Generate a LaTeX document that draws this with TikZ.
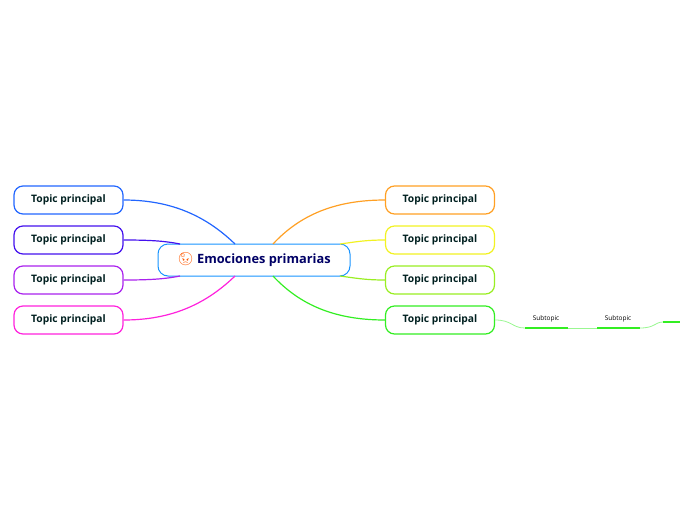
\documentclass[tikz,border=0pt]{standalone}
\usepackage{fontspec}
\setmainfont{Open Sans}
\newfontfamily\emo{Noto Emoji}
\begin{document}
\begin{tikzpicture}[x=1pt,y=-1pt,
  topic/.style={draw=#1,line width=1.2pt,rounded corners=9pt,minimum width=109pt,minimum height=28pt,font=\bfseries\fontsize{10.3}{11}\selectfont,text=black!75!teal,fill=white},
  conn/.style={draw=#1,line width=1.2pt},
  sub/.style={font=\fontsize{6.5}{7}\selectfont,inner sep=1pt}]
\useasboundingbox (0,0) rectangle (696,520);
\definecolor{cb}{HTML}{2266FF}\definecolor{cp}{HTML}{4411EE}\definecolor{cv}{HTML}{AA22EE}\definecolor{cm}{HTML}{FF22DD}
\definecolor{co}{HTML}{FFA024}\definecolor{cy}{HTML}{F2F222}\definecolor{cl}{HTML}{99EE22}\definecolor{cg}{HTML}{33EE22}
\node[draw=cb!70!cyan,line width=1pt,rounded corners=10pt,minimum width=192pt,minimum height=32pt,fill=white,font=\bfseries\fontsize{12.8}{14}\selectfont,text=blue!40!black] (c) at (254,260) {{\emo\fontsize{13}{13}\selectfont\textcolor{orange!70!red}{😡}} Emociones primarias};
\node[topic=cb] (l1) at (68.5,200) {Topic principal};
\node[topic=cp] (l2) at (68.5,240) {Topic principal};
\node[topic=cv] (l3) at (68.5,280) {Topic principal};
\node[topic=cm] (l4) at (68.5,320) {Topic principal};
\node[topic=co] (r1) at (440,200) {Topic principal};
\node[topic=cy] (r2) at (440,240) {Topic principal};
\node[topic=cl] (r3) at (440,280) {Topic principal};
\node[topic=cg] (r4) at (440,320) {Topic principal};
\draw[conn=cb] (l1.east) .. controls (170,200) and (205,215) .. (235,244);
\draw[conn=cp] (l2.east) .. controls (150,240) and (165,241) .. (180,244);
\draw[conn=cv] (l3.east) .. controls (150,280) and (165,279) .. (180,276);
\draw[conn=cm] (l4.east) .. controls (170,320) and (205,305) .. (235,276);
\draw[conn=co] (r1.west) .. controls (335,200) and (300,215) .. (273,244);
\draw[conn=cy] (r2.west) .. controls (365,240) and (355,242) .. (340,244);
\draw[conn=cl] (r3.west) .. controls (365,280) and (355,278) .. (340,276);
\draw[conn=cg] (r4.west) .. controls (335,320) and (300,305) .. (273,276);
\coordinate (a) at (525,328);\coordinate (b) at (568,328);\coordinate (d) at (597,328);\coordinate (e) at (640,328);\coordinate (f) at (663,322);\coordinate (g) at (680,322);
\draw[cg!50,line width=0.8pt] (r4.east) .. controls (512,320) and (512,328) .. (a);
\draw[cg!50,line width=0.8pt] (b) -- (d);
\draw[cg!50,line width=0.8pt] (e) .. controls (655,328) and (655,322) .. (f);
\draw[cg,line width=1.5pt] (a) -- (b);\draw[cg,line width=1.5pt] (d) -- (e);\draw[cg,line width=1.5pt] (f) -- (g);
\node[sub] (s1) at (546,319) {Subtopic};
\node[sub] (s2) at (618,319) {Subtopic};
\end{tikzpicture}
\end{document}
